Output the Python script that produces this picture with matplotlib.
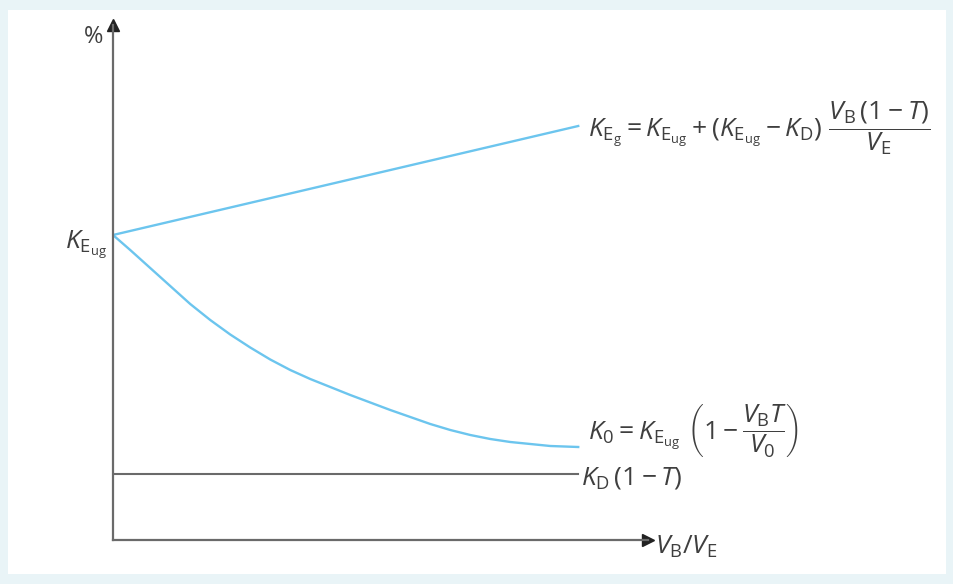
import numpy as np
import matplotlib.pyplot as plt
from matplotlib.patches import Rectangle

plt.rcParams['mathtext.fontset'] = 'custom'
plt.rcParams['mathtext.rm'] = 'Open Sans'
plt.rcParams['mathtext.it'] = 'Open Sans:italic'
plt.rcParams['mathtext.bf'] = 'Open Sans:bold'
plt.rcParams['font.family'] = ['Open Sans', 'DejaVu Sans']

# Datos (unidades arbitrarias)
k_eug = 3.05
k_d = 0.66
x_end = 1.0
k_eg_end = 4.14
# curva K_0 (decreciente)
x_k0 = [0.0, 0.037, 0.080, 0.123, 0.166, 0.209, 0.252, 0.295, 0.338, 0.381,
        0.424, 0.467, 0.510, 0.553, 0.596, 0.639, 0.682, 0.725, 0.768, 0.811,
        0.854, 0.897, 0.940, 1.0]
y_k0 = [3.05, 2.90, 2.72, 2.54, 2.36, 2.20, 2.055, 1.925, 1.805, 1.70,
        1.61, 1.53, 1.45, 1.375, 1.30, 1.23, 1.16, 1.10, 1.05, 1.01,
        0.98, 0.96, 0.94, 0.93]

W, H = 954, 584
azul = '#6cc5ee'
gris = '#6a6a6a'
txt = '#3f3f3f'

fig = plt.figure(figsize=(W / 100, H / 100), dpi=100)
fig.patch.set_facecolor('#e9f4f7')
fig.patches.append(Rectangle((8 / W, (H - 574) / H), (946 - 8) / W, (574 - 10) / H,
                             transform=fig.transFigure, fc='white', ec='none', zorder=-10))

x0, y0, x1, y1 = 113, 540, 648, 25
ax = fig.add_axes([x0 / W, (H - y0) / H, (x1 - x0) / W, (y0 - y1) / H])
ax.set_facecolor('none')
ax.set_xlim(0, 1.15)
ax.set_ylim(0, 5.15)
for s in ['top', 'right']:
    ax.spines[s].set_visible(False)
for s in ['left', 'bottom']:
    ax.spines[s].set_color(gris)
    ax.spines[s].set_linewidth(1.6)
ax.set_xticks([])
ax.set_yticks([])

# flechas de los ejes
ax.plot(1, 0, '>', color='#222222', ms=8, transform=ax.transAxes, clip_on=False)
ax.plot(0, 1, '^', color='#222222', ms=8, transform=ax.transAxes, clip_on=False)

# líneas
ax.plot([0, x_end], [k_eug, k_eg_end], color=azul, lw=1.7)
ax.plot(x_k0, y_k0, color=azul, lw=1.7, solid_joinstyle='round')
ax.plot([0, x_end], [k_d, k_d], color=gris, lw=1.5)

fs = 19
ax.text(-0.022, 5.03, '%', ha='right', va='center', fontsize=fs - 2, color=txt)
ax.text(-0.012, 2.95, r'$K_{\mathrm{E}_{\mathrm{ug}}}$', ha='right', va='center',
        fontsize=fs, color=txt)
ax.text(1.02, 4.12,
        r'$K_{\mathrm{E}_{\mathrm{g}}} = K_{\mathrm{E}_{\mathrm{ug}}} + (K_{\mathrm{E}_{\mathrm{ug}}} - K_{\mathrm{D}})\ '
        r'\dfrac{V_{\mathrm{B}}\,(1-T)}{V_{\mathrm{E}}}$',
        ha='left', va='center', fontsize=fs, color=txt)
ax.text(1.02, 1.08,
        r'$K_0 = K_{\mathrm{E}_{\mathrm{ug}}}\ \left(1-\dfrac{V_{\mathrm{B}}T}{V_0}\right)$',
        ha='left', va='center', fontsize=fs, color=txt)
ax.text(1.005, 0.62, r'$K_{\mathrm{D}}\,(1-T)$', ha='left', va='center',
        fontsize=fs, color=txt)
ax.text(1.165, -0.07, r'$V_{\mathrm{B}}/V_{\mathrm{E}}$', ha='left', va='center',
        fontsize=fs, color=txt)

fig.savefig('out.png', dpi=100, facecolor=fig.get_facecolor())
